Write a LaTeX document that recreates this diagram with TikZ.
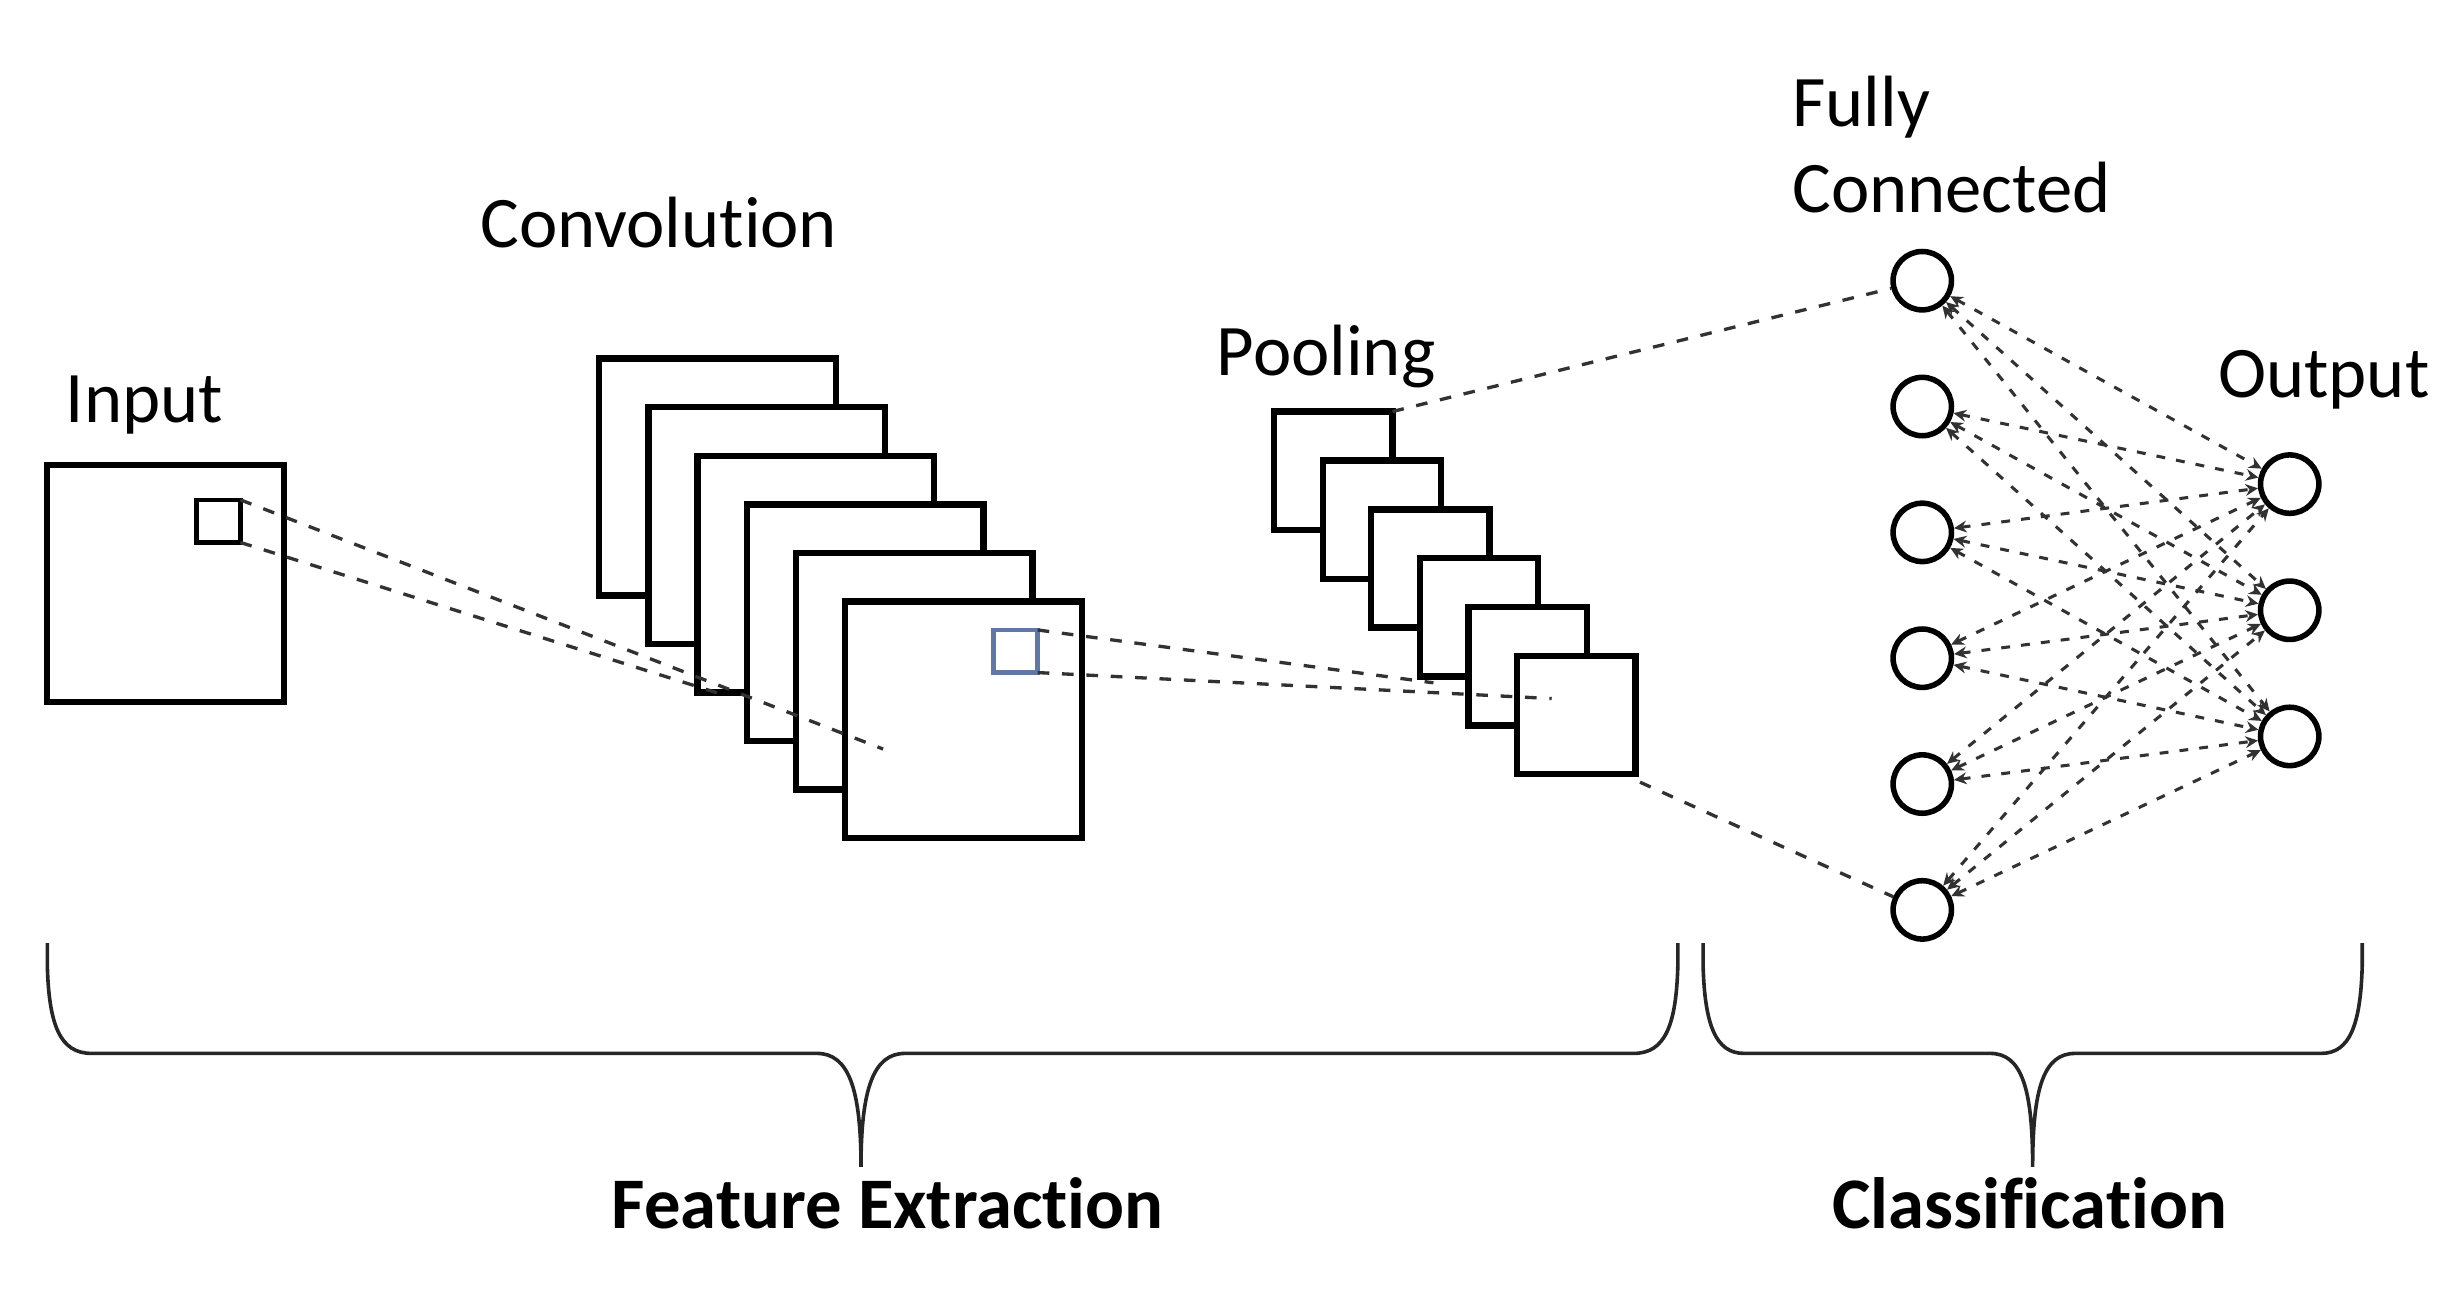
\documentclass[tikz,border=0pt]{standalone}
\usepackage{fontspec}
\setmainfont{Carlito}[Ligatures={NoCommon}]
\usetikzlibrary{arrows.meta}
\definecolor{dashgray}{RGB}{50,50,50}
\definecolor{patchblue}{RGB}{95,120,165}
\tikzset{
  fmap/.style={draw=black, line width=1.15pt, fill=white, rectangle, inner sep=0pt, outer sep=0pt, minimum width=1.5cm, minimum height=1.5cm},
  pmap/.style={draw=black, line width=1.15pt, fill=white, rectangle, inner sep=0pt, outer sep=0pt, minimum width=0.75cm, minimum height=0.75cm},
  patch/.style={draw=#1, line width=0.8pt, fill=none, rectangle, inner sep=0pt, outer sep=0pt, minimum width=0.28cm, minimum height=0.27cm},
  neuron/.style={draw=black, line width=1pt, circle, fill=white, inner sep=0pt, minimum size=0.37cm},
  lbl/.style={inner sep=0pt, anchor=base west, font=\fontsize{13.1pt}{16pt}\selectfont},
  blbl/.style={inner sep=0pt, anchor=base, font=\fontsize{13.1pt}{16pt}\selectfont\bfseries},
  ray/.style={draw=dashgray, line width=0.6pt, dash pattern=on 2.1pt off 2.3pt},
  fcray/.style={draw=dashgray, line width=0.55pt, dash pattern=on 1.6pt off 2.0pt,
    {Stealth[length=0.8mm,width=0.75mm]}-{Stealth[length=0.8mm,width=0.75mm]}},
  bracepath/.style={draw=black!85, line width=0.65pt},
}
\begin{document}
\begin{tikzpicture}[x=0.01cm, y=-0.01cm]
\useasboundingbox (0,0) rectangle (1560,817.4);

% labels
\node[lbl] (tin) at (41,268) {Input};
\node[lbl] (tconv) at (304,157) {Convolution};
\node[lbl] (tpool) at (771,238) {Pooling};
\node[lbl] (tfully) at (1136,80) {Fully};
\node[lbl] (tconn) at (1136,135) {Connected};
\node[lbl] (tout) at (1406,252) {Output};

% input
\node[fmap] (inbox) at (105,370) {};
\node[patch=black] (inpatch) at (138.5,330.5) {};

% convolution stack
\foreach \k in {0,...,5} {
  \node[fmap] (conv\k) at ({455+31.2*\k},{302.5+30.8*\k}) {};
}
\node[patch=patchblue] (cpatch) at (644,413) {};

% pooling stack
\foreach \k in {0,...,5} {
  \node[pmap] (pool\k) at ({845.5+30.8*\k},{298.5+31*\k}) {};
}

% rays input -> conv
\coordinate (a1) at (560,475);
\coordinate (a2) at (460,441);
\draw[ray] (inpatch.north east) -- (a1);
\draw[ray] (inpatch.south east) -- (a2);

% rays conv -> pool
\coordinate (b1) at (909,433);
\coordinate (b2) at (984,443);
\draw[ray] (cpatch.north east) -- (b1);
\draw[ray] (cpatch.south east) -- (b2);

% neurons
\foreach \i in {0,...,5} {
  \node[neuron] (fc\i) at (1219,{178+79.8*\i}) {};
}
\foreach \j in {0,...,2} {
  \node[neuron] (out\j) at (1452,{307+80*\j}) {};
}

% pool -> fc
\draw[ray] (pool0.north east) -- (fc0);
\draw[ray] ([xshift=0.03cm,yshift=-0.05cm]pool5.south east) -- (fc5);

% fc -> out
\foreach \i in {0,...,5} {
  \foreach \j in {0,...,2} {
    \draw[fcray] (fc\i) -- (out\j);
  }
}

% braces
\draw[bracepath] (30,598) -- (30,612) .. controls (31,650) and (38,668) .. (58,668)
  -- (518,668) .. controls (538,668) and (546,690) .. (546,740)
  .. controls (546,690) and (554,668) .. (574,668)
  -- (1036,668) .. controls (1056,668) and (1063,650) .. (1064,612) -- (1064,598);
\draw[bracepath] (1080,598) -- (1080,612) .. controls (1081,650) and (1088,668) .. (1106,668)
  -- (1262,668) .. controls (1282,668) and (1289,690) .. (1289,740)
  .. controls (1289,690) and (1296,668) .. (1316,668)
  -- (1472,668) .. controls (1490,668) and (1497,650) .. (1498,612) -- (1498,598);

\node[blbl] (tfe) at (563,779) {Feature Extraction};
\node[blbl] (tcl) at (1287,779) {Classification};
\end{tikzpicture}
\end{document}
